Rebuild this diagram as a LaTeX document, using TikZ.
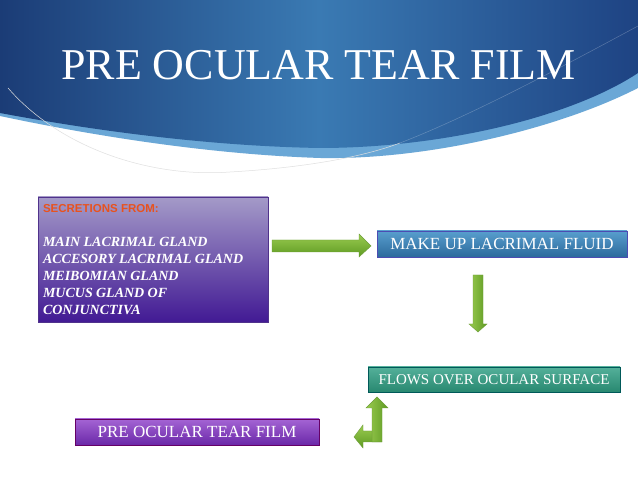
\documentclass[tikz,border=0pt]{standalone}
\usepackage{fontspec}
\setmainfont{Liberation Serif}
\newfontfamily\headsans{Liberation Sans}
\usetikzlibrary{shadows}
\definecolor{navyL}{HTML}{1B3C76}
\definecolor{navyM}{HTML}{3A7AB3}
\definecolor{navyR}{HTML}{1E4383}
\definecolor{stripe}{HTML}{6AA7D6}
\definecolor{arrTop}{HTML}{9ACB50}
\definecolor{arrBot}{HTML}{5E9A22}
\definecolor{arrEdge}{HTML}{6E9E3A}
\tikzset{
  boxbase/.style={draw, line width=0.6pt, text=white, inner sep=3pt,
     drop shadow={opacity=0.25, shadow xshift=1.2pt, shadow yshift=-1.2pt}},
  srcbox/.style={boxbase, draw={rgb,255:red,80;green,50;blue,140}, top color={rgb,255:red,164;green,154;blue,200}, bottom color={rgb,255:red,66;green,26;blue,148},
     minimum width=230pt, minimum height=125pt, text width=220pt, inner xsep=5pt, align=left},
  bluebox/.style={boxbase, draw=blue!40!gray, top color={rgb,255:red,88;green,158;blue,206}, bottom color={rgb,255:red,44;green,106;blue,156},
     minimum width=250pt, minimum height=26pt},
  tealbox/.style={boxbase, draw=teal!70!black, top color={rgb,255:red,84;green,176;blue,154}, bottom color={rgb,255:red,40;green,136;blue,112},
     minimum width=252pt, minimum height=25pt},
  purpbox/.style={boxbase, draw=violet!80!black, top color={rgb,255:red,164;green,100;blue,212}, bottom color={rgb,255:red,106;green,40;blue,168},
     minimum width=244pt, minimum height=26pt},
  greenarrow/.style={draw=arrEdge, line width=0.4pt, top color=arrTop, bottom color=arrBot},
  greenarrowv/.style={draw=arrEdge, line width=0.4pt, left color=arrTop, right color=arrBot}
}
\begin{document}
\begin{tikzpicture}[x=1pt,y=1pt]
\useasboundingbox (0,0) rectangle (638,478);
\fill[white] (0,0) rectangle (638,478);
% header light stripe
\fill[stripe] (0,478) -- (638,478) -- (638,390)
  .. controls (560,350) and (430,318) .. (320,320)
  .. controls (200,324) and (80,345) .. (0,362) -- cycle;
% header main band
\shade[left color=navyL, right color=navyR, middle color=navyM]
  (0,478) -- (638,478) -- (638,405)
  .. controls (570,360) and (440,330) .. (320,330)
  .. controls (200,332) and (80,350) .. (0,365) -- cycle;
% thin grey arc
\begin{scope}
\clip (0,0) rectangle (638,478);
\draw[gray!25, line width=0.5pt] (8,390) .. controls (60,330) and (150,300) .. (230,306)
  .. controls (300,310) and (360,320) .. (400,335);
\draw[white, opacity=0.25, line width=0.5pt] (400,335) .. controls (470,362) and (560,410) .. (638,452);
\end{scope}
% title
\node[text=white, font=\fontsize{44}{48}\selectfont, anchor=base] (title) at (318.5,398) {PRE OCULAR TEAR FILM};

% boxes
\node[srcbox] (src) at (153,218.5) {%
  {\headsans\bfseries\fontsize{11.5}{17}\selectfont\color[HTML]{E8521E}SECRETIONS FROM:\par}
  \vspace{17pt}
  {\bfseries\itshape\fontsize{14}{17}\selectfont MAIN LACRIMAL GLAND\\ACCESORY LACRIMAL GLAND\\MEIBOMIAN GLAND\\MUCUS GLAND OF\\CONJUNCTIVA\par}};
\node[bluebox, font=\fontsize{17}{19}\selectfont] (fluid) at (502,234) {MAKE UP LACRIMAL FLUID};
\node[tealbox, font=\fontsize{15}{17}\selectfont] (flow) at (494,98.5) {FLOWS OVER OCULAR SURFACE};
\node[purpbox, font=\fontsize{17}{19}\selectfont] (film) at (197,46) {PRE OCULAR TEAR FILM};

% arrow src -> fluid
\path[greenarrow] (272,238) -- (359,238) -- (359,244) -- (371,232) -- (359,221) -- (359,226) -- (272,226) -- cycle;
% arrow fluid -> flow
\path[greenarrowv] (473,203) -- (483,203) -- (483,154) -- (487,154) -- (478,146) -- (469,154) -- (473,154) -- cycle;
% elbow arrow flow -> film
\path[greenarrowv] (372,36) -- (372,70) -- (366,70) -- (377,81) -- (388,70) -- (382,70) -- (382,36) -- cycle;
\path[greenarrow] (382,36) -- (363,36) -- (363,30) -- (354,41) -- (363,53) -- (363,47) -- (372,47) -- (372,36);
\end{tikzpicture}
\end{document}
